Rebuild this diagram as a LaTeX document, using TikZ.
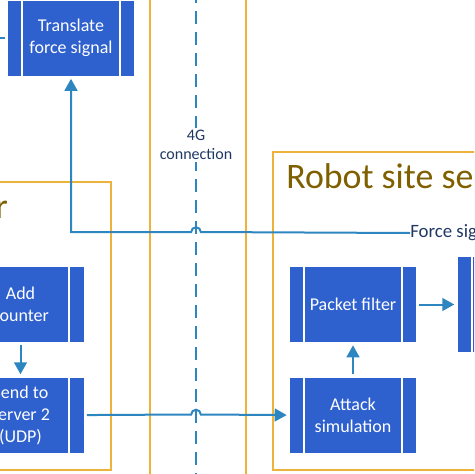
\documentclass[tikz,border=0pt]{standalone}
\usepackage{fontspec}
\setmainfont{Carlito}
\usetikzlibrary{arrows.meta,positioning}
\definecolor{boxblue}{RGB}{46,96,206}
\definecolor{linkblue}{RGB}{46,134,193}
\definecolor{siteorange}{RGB}{237,178,58}
\definecolor{titlebrown}{RGB}{127,96,0}
\definecolor{labelnavy}{RGB}{32,56,100}

\begin{document}
\begin{tikzpicture}[
  x=0.25mm, y=-0.25mm,
  node distance=8.75mm and 10.25mm,
  box/.style={fill=boxblue,text=white,minimum width=31.5mm,minimum height=#1,inner sep=0pt,
    align=center,font=\fontsize{12.8}{15.6}\selectfont,
    path picture={\draw[white,line width=0.5mm]
      ([xshift=3.5mm]path picture bounding box.north west) -- ([xshift=3.5mm]path picture bounding box.south west)
      ([xshift=-3.6mm]path picture bounding box.north east) -- ([xshift=-3.6mm]path picture bounding box.south east);}},
  box/.default=18.75mm,
  site/.style={draw=siteorange,line width=0.6mm},
  sitetitle/.style={text=titlebrown,font=\fontsize{25.5}{30}\selectfont,inner sep=0pt},
  lbl/.style={text=labelnavy,font=\fontsize{11.4}{14}\selectfont,align=center},
  arr/.style={-{Triangle[length=3mm,width=3.2mm]},draw=linkblue,line width=0.5mm,shorten >=0.75mm,shorten <=0.75mm},
  link/.style={draw=linkblue,line width=0.5mm,dash pattern=on 3.25mm off 2mm}
]
\useasboundingbox (0,0) rectangle (474,474);
\clip (0,0) rectangle (474,474);

% site frames
\draw[site] (-20,182) rectangle (111,470);
\draw[site] (150,-20) rectangle (246,494);
\draw[site] (273,152) rectangle (494,470);
\node[sitetitle,anchor=base east] (opt) at (8,218) {Operator site server};
\node[sitetitle,anchor=base west] (rbt) at (286,188) {Robot site server};

% 4G link
\coordinate (lnktop) at (196,-10);
\coordinate (lnkbot) at (196,484);
\draw[link] (lnktop) -- (lnkbot);
\node[lbl,fill=white,inner sep=1pt] (g4) at (196,145) {4G\\connection};

% blocks
\node[box] (trs) at (71,38) {Translate\\force signal};
\node[box] (add) at (20.5,304.5) {Add\\counter};
\node[box,below=of add] (snd) {Send to\\server 2\\(UDP)};
\node[box] (pkt) at (353,304.5) {Packet filter};
\node[box,below=of pkt] (atk) {Attack\\simulation};
\node[box=23.75mm,right=of pkt] (nxt) {};

% force feedback
\node[lbl,anchor=west,inner sep=0pt,font=\fontsize{13.4}{16}\selectfont] (fsig) at (410,233) {Force signal};
\coordinate (hopA) at (196,232);
\draw[arr,shorten <=0pt] (fsig.west) -- ([xshift=1.2mm]hopA)
  arc[start angle=0,end angle=180,radius=1.2mm] -| (trs.south);
\coordinate (trsout) at (-30,38);
\draw[arr] (trs.west) -- (trsout);

% data path
\draw[arr] (add) -- (snd);
\coordinate (hopB) at (196,414.5);
\draw[arr] (snd.east) -- ([xshift=-1.2mm]hopB)
  arc[start angle=180,end angle=0,radius=1.2mm] -- (atk.west);
\draw[arr] (atk) -- (pkt);
\draw[arr] (pkt) -- (nxt);
\end{tikzpicture}
\end{document}
